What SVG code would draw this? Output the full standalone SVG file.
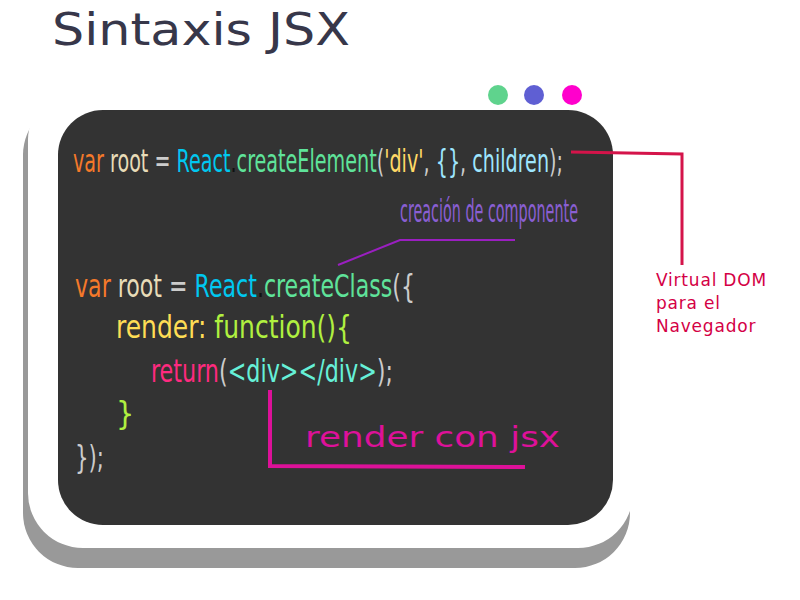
<svg xmlns="http://www.w3.org/2000/svg" width="800" height="600" viewBox="0 0 800 600">
<style>
.code{font-family:"DejaVu Sans Condensed","DejaVu Sans",sans-serif;font-size:32px;fill:#ddd}
.lbl{font-family:"DejaVu Sans",sans-serif}
.o{fill:#f5792a}.w{fill:#e8dcb8}.g{fill:#ccc}.b{fill:#00c8f0}.gr{fill:#5fe39a}.y{fill:#ffd966}.lb{fill:#9ee6ff}.yg{fill:#b0f040}.pk{fill:#ff2a7f}.t{fill:#66f0d8}.yl{fill:#ffdd55}
</style>
<rect width="800" height="600" fill="#fff"/>
<text x="52" y="45" class="lbl" font-size="44" fill="#37374a" textLength="298" lengthAdjust="spacingAndGlyphs">Sintaxis JSX</text>
<g id="card">
<rect x="23" y="100" width="607" height="468" rx="55" fill="#999"/>
<rect x="28" y="85" width="605" height="463" rx="55" fill="#fff"/>
<rect x="58" y="110" width="555" height="415" rx="45" fill="#333"/>
<circle cx="498" cy="95" r="10" fill="#5fd38d"/>
<circle cx="534" cy="95" r="10" fill="#5f5fd3"/>
<circle cx="572" cy="95" r="10" fill="#ff00cc"/>
</g>
<g id="code" class="code">
<text x="73" y="172" textLength="490" lengthAdjust="spacingAndGlyphs"><tspan class="o">var</tspan><tspan class="w"> root</tspan><tspan class="g"> = </tspan><tspan class="b">React</tspan><tspan fill="#111">.</tspan><tspan class="gr">createElement</tspan><tspan class="g">(</tspan><tspan class="y">'div'</tspan><tspan class="g">, </tspan><tspan class="lb">{}</tspan><tspan class="g">, </tspan><tspan class="lb">children</tspan><tspan class="g">);</tspan></text>
<text x="75" y="297" textLength="340" lengthAdjust="spacingAndGlyphs"><tspan class="o">var</tspan><tspan class="w"> root</tspan><tspan class="g"> = </tspan><tspan class="b">React</tspan><tspan fill="#111">.</tspan><tspan class="gr">createClass</tspan><tspan class="g">({</tspan></text>
<text x="116" y="338" textLength="236" lengthAdjust="spacingAndGlyphs"><tspan class="yl">render: </tspan><tspan class="yg">function(){</tspan></text>
<text x="151" y="382" textLength="242" lengthAdjust="spacingAndGlyphs"><tspan class="pk">return</tspan><tspan class="g">(</tspan><tspan class="t">&lt;div&gt;&lt;/div&gt;</tspan><tspan class="g">);</tspan></text>
<text x="116" y="424" class="yg">}</text>
<text x="75" y="468" class="g" textLength="29" lengthAdjust="spacingAndGlyphs">});</text>
</g>
<g id="connectors" fill="none">
<polyline points="571,152 682,154 682,265" stroke="#d4144a" stroke-width="3"/>
<polyline points="338,265 400,240 515,240" stroke="#9a1fc0" stroke-width="2"/>
<polyline points="270,390 270,466 525,467" stroke="#dd1199" stroke-width="4"/>
</g>
<g id="labels">
<text class="lbl" font-size="17" fill="#d40045" letter-spacing="0.8"><tspan x="656" y="286">Virtual DOM</tspan><tspan x="656" y="309">para el</tspan><tspan x="656" y="332">Navegador</tspan></text>
<text x="400" y="222" class="code" font-size="22" style="fill:#8a5fd3" textLength="178" lengthAdjust="spacingAndGlyphs">creación de componente</text>
<text x="305" y="447" class="lbl" font-size="29" fill="#dd1199" textLength="255" lengthAdjust="spacingAndGlyphs">render con jsx</text>
</g>
</svg>
